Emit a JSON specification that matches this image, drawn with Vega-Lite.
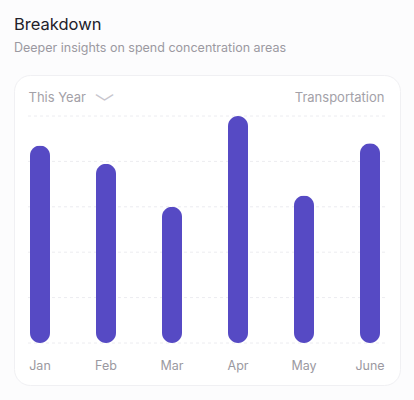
{
  "$schema": "https://vega.github.io/schema/vega-lite/v6.json",
  "autosize": "none",
  "width": 386,
  "height": 310,
  "padding": {"left": 14, "top": 75, "right": 14, "bottom": 15},
  "background": "#fcfcfd",
  "view": {"fill": "#ffffff", "stroke": "#f0f0f3", "strokeWidth": 1, "cornerRadius": 16},
  "config": {"font": "Inter"},
  "title": {
    "text": "Breakdown",
    "subtitle": "Deeper insights on spend concentration areas",
    "anchor": "start",
    "frame": "group",
    "offset": 21,
    "font": "Inter",
    "fontSize": 16.5,
    "fontWeight": 400,
    "color": "#22212a",
    "subtitleFont": "Inter",
    "subtitleFontSize": 12.5,
    "subtitleColor": "#9b99a1",
    "subtitlePadding": 8
  },
  "datasets": {
    "months": [
      {"month": "Jan", "value": 87},
      {"month": "Feb", "value": 79},
      {"month": "Mar", "value": 60},
      {"month": "Apr", "value": 100},
      {"month": "May", "value": 65},
      {"month": "June", "value": 88}
    ],
    "grid": [
      {"v": 0}, {"v": 20}, {"v": 40}, {"v": 60}, {"v": 80}, {"v": 100}
    ]
  },
  "layer": [
    {
      "data": {"name": "grid"},
      "mark": {"type": "rule", "stroke": "#ececf0", "strokeWidth": 1, "strokeDash": [3, 3]},
      "encoding": {
        "y": {
          "field": "v", "type": "quantitative",
          "scale": {"domain": [0, 100], "range": [268, 41], "nice": false, "zero": false},
          "axis": {
            "orient": "right", "title": "Transportation", "labels": false, "ticks": false,
            "domain": false, "grid": false, "titleAngle": 0, "titleAlign": "right",
            "titleBaseline": "alphabetic", "titleX": -16, "titleY": 26,
            "titleFont": "Inter", "titleFontSize": 13, "titleFontWeight": "normal", "titleColor": "#a3a1a8"
          }
        },
        "x": {
          "datum": 0, "type": "quantitative",
          "scale": {"domain": [0, 1], "range": [14, 371]},
          "axis": {
            "orient": "top", "title": "﹀", "labels": false, "ticks": false, "domain": false, "grid": false,
            "titleAlign": "center", "titleBaseline": "middle", "titleX": 90, "titleY": 28,
            "titleFont": "Noto Sans CJK SC", "titleFontSize": 19, "titleFontWeight": "normal", "titleColor": "#c8c6ce"
          }
        },
        "x2": {"datum": 1}
      }
    },
    {
      "data": {"name": "months"},
      "mark": {"type": "bar", "width": 20, "cornerRadius": 10, "color": "#564ac4"},
      "encoding": {
        "x": {
          "field": "month", "type": "nominal", "sort": null,
          "scale": {"type": "band", "range": [-7, 389], "paddingInner": 0, "paddingOuter": 0},
          "axis": {
            "title": null, "domain": false, "ticks": false, "tickSize": 0, "grid": false,
            "labelPadding": -26, "labelBaseline": "top", "labelAngle": 0,
            "labelFont": "Inter", "labelFontSize": 12.5, "labelColor": "#9b99a1"
          }
        },
        "y": {
          "field": "value", "type": "quantitative",
          "scale": {"domain": [0, 100], "range": [268, 41], "nice": false, "zero": false},
          "axis": {
            "orient": "left", "title": "This Year", "labels": false, "ticks": false,
            "domain": false, "grid": false, "titleAngle": 0, "titleAlign": "left",
            "titleBaseline": "alphabetic", "titleX": 14, "titleY": 26,
            "titleFont": "Inter", "titleFontSize": 13, "titleFontWeight": "normal", "titleColor": "#a3a1a8"
          }
        }
      }
    }
  ],
  "resolve": {"scale": {"x": "independent"}, "axis": {"y": "independent"}}
}
